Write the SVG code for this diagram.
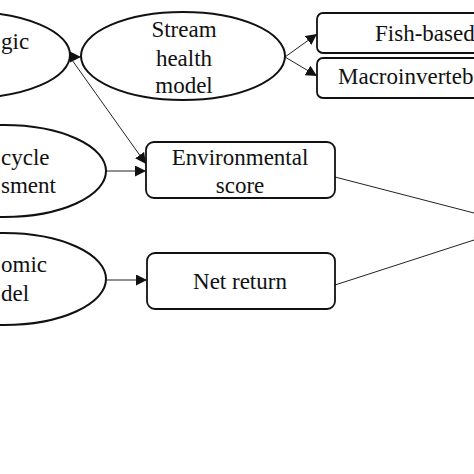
<svg xmlns="http://www.w3.org/2000/svg" width="474" height="474" viewBox="0 0 474 474">
<defs>
<style>
.node{fill:#fff;stroke:#111;stroke-width:2}
.box{fill:#fff;stroke:#111;stroke-width:1.8}
.lbl{font-family:"Liberation Serif","Times New Roman",serif;font-size:23px;fill:#111}
.c{text-anchor:middle}
.e{text-anchor:end}
.edge{stroke:#222;stroke-width:1;fill:none}
</style>
<marker id="ah" viewBox="0 0 10 10" refX="10" refY="5" markerWidth="11" markerHeight="11" markerUnits="userSpaceOnUse" orient="auto">
<path d="M0,0 L10,5 L0,10 z" fill="#111"/>
</marker>
</defs>
<rect width="474" height="474" fill="#fff"/>
<g id="connectors">
<line class="edge" x1="70" y1="57" x2="81" y2="57" marker-end="url(#ah)"/>
<line class="edge" x1="72" y1="60" x2="146" y2="164" marker-end="url(#ah)"/>
<line class="edge" x1="106" y1="171" x2="146" y2="171" marker-end="url(#ah)"/>
<line class="edge" x1="106" y1="280" x2="147" y2="280" marker-end="url(#ah)"/>
<line class="edge" x1="285" y1="57" x2="317" y2="34" marker-end="url(#ah)"/>
<line class="edge" x1="285" y1="57" x2="317" y2="76" marker-end="url(#ah)"/>
<line class="edge" x1="335" y1="177" x2="474" y2="213"/>
<line class="edge" x1="335" y1="285" x2="474" y2="240"/>
</g>
<g id="hydrologic">
<ellipse class="node" cx="-32" cy="55" rx="102" ry="43"/>
<text class="lbl" x="1" y="49">gic</text>
</g>
<g id="stream-health">
<ellipse class="node" cx="183" cy="56" rx="102" ry="44"/>
<text class="lbl c" x="184" y="37">Stream</text>
<text class="lbl c" x="184" y="66">health</text>
<text class="lbl c" x="184" y="93">model</text>
</g>
<g id="fish">
<rect class="box" x="317" y="13" width="212" height="40" rx="6"/>
<text class="lbl" x="375" y="41">Fish-based</text>
</g>
<g id="macro">
<rect class="box" x="317" y="58" width="212" height="40" rx="6"/>
<text class="lbl" x="338" y="84">Macroinverteb</text>
</g>
<g id="lifecycle">
<ellipse class="node" cx="4" cy="171" rx="102" ry="46"/>
<text class="lbl" x="1" y="165">cycle</text>
<text class="lbl" x="1" y="193">sment</text>
</g>
<g id="environmental">
<rect class="box" x="146" y="142" width="189" height="56" rx="8"/>
<text class="lbl c" x="240" y="165">Environmental</text>
<text class="lbl c" x="240" y="193">score</text>
</g>
<g id="economic">
<ellipse class="node" cx="4" cy="279" rx="102" ry="46"/>
<text class="lbl" x="1" y="272">omic</text>
<text class="lbl" x="1" y="301">del</text>
</g>
<g id="net-return">
<rect class="box" x="147" y="253" width="188" height="56" rx="8"/>
<text class="lbl c" x="240" y="289">Net return</text>
</g>
</svg>
